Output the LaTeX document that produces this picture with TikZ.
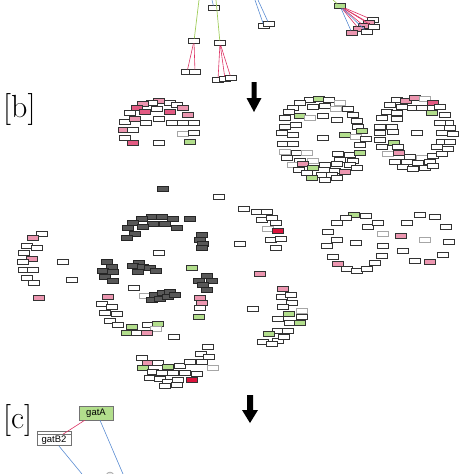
\documentclass[tikz,border=0pt]{standalone}
\usepackage{fontspec}
\newfontfamily\lab{Liberation Sans}
\definecolor{pinkA}{RGB}{236,150,176}
\definecolor{pinkB}{RGB}{226,90,130}
\definecolor{redA}{RGB}{220,20,60}
\definecolor{greenA}{RGB}{178,222,140}
\definecolor{darkA}{RGB}{88,88,88}
\definecolor{lgreen}{RGB}{160,205,90}
\definecolor{lpink}{RGB}{220,50,100}
\definecolor{lblue}{RGB}{90,140,210}
\tikzset{
  bx/.style={draw=black!80, line width=0.85pt, fill=white, minimum width=11pt, minimum height=5pt, inner sep=0pt, outer sep=0pt},
  bw/.style={},
  bl/.style={draw=black!35},
  bp/.style={fill=pinkA},
  bq/.style={fill=pinkB},
  br/.style={fill=redA},
  bg/.style={fill=greenA},
  bd/.style={fill=darkA, draw=black!85},
  gl/.style={lgreen, line width=0.7pt},
  pl/.style={lpink, line width=0.6pt},
  bl2/.style={lblue, line width=0.6pt},
  panel/.style={font=\fontsize{32}{34}\selectfont, inner sep=0pt, anchor=west},
  gene/.style={font=\lab\fontsize{9.5}{10}\selectfont, inner sep=1pt, minimum width=34pt, draw=black!55, line width=0.6pt},
  bigarrow/.style={fill=black, draw=none}
}
\begin{document}
\begin{tikzpicture}[x=1pt,y=-1pt]
\useasboundingbox (0,0) rectangle (474,474);
% ---------- top part (a) ----------
\coordinate (t1) at (199,0);
\coordinate (t2) at (212,0);
\coordinate (t2b) at (216,0);
\coordinate (t3) at (255,0);
\coordinate (t3b) at (258,0);
\coordinate (t4) at (333,0);
\node[bx] (n1) at (214,8) {};
\node[bx] (n2) at (194,41) {};
\node[bx] (n3) at (220,43) {};
\node[bx] (c1) at (187,72) {};
\node[bx] (c2) at (195,72) {};
\node[bx] (d1) at (218,80) {};
\node[bx] (d2) at (225,79) {};
\node[bx] (d3) at (231,78) {};
\node[bx] (e1) at (264,26) {};
\node[bx] (e2) at (269,24) {};
\node[bx,bg] (g1) at (340,6) {};
\node[bx,bw] (f1) at (373,20) {};
\node[bx,bp] (f2) at (369,23) {};
\node[bx,bp] (f3) at (364,26) {};
\node[bx,bw] (f7) at (374,27) {};
\node[bx,bp] (f4) at (359,29) {};
\node[bx,bw] (f6) at (367,32) {};
\node[bx,bp] (f5) at (352,33) {};
\draw[gl] (t1) -- (n2);
\draw[gl] (t2b) -- (n3);
\draw[bl2] (t2) -- (n1);
\draw[bl2] (t3) -- (e1);
\draw[bl2] (t3b) -- (e2);
\draw[gl] (t4) -- (g1);
\draw[pl] (n2) -- (c1);
\draw[pl] (n2) -- (c2);
\draw[pl] (n3) -- (d1);
\draw[pl] (n3) -- (d2);
\draw[pl] (n3) -- (d3);
\draw[pl] (g1) -- (f1);
\draw[pl] (g1) -- (f2);
\draw[pl] (g1) -- (f3);
\draw[pl] (g1) -- (f4);
\draw[pl] (g1) -- (f7);
\draw[bl2] (g1) -- (f5);
\draw[bl2] (g1) -- (f6);
% ---------- arrows ----------
\fill[bigarrow] (251.5,82) -- (256.5,82) -- (256.5,98) -- (261.5,98) -- (254,112) -- (246.5,98) -- (251.5,98) -- cycle;
\fill[bigarrow] (247,395) -- (253,395) -- (253,410) -- (258,410) -- (250,423) -- (242,410) -- (247,410) -- cycle;
% ---------- labels ----------
\node[panel] (lb) at (3,109) {[b]};
\node[panel] (lc) at (3,420) {[c]};
% ---------- half ring (b) ----------
\foreach \x/\y/\s [count=\i] in {159/101/bp,152/103/bw,170/103/bw,143/104/bp,177/105/bw,157/109/bw,137/108/bq,145/112/bq,170/112/bq,183/108/bp,130/113/bw,188/115/bp,125/122/bw,135/119/bp,146/123/bw,159/119/bw,172/123/bw,183/123/bw,194/123/bw,124/130/bp,133/130/bw,183/134/bl,194/133/bw,125/138/bw,133/143/bq,159/143/bw,190/142/bg}
  \node[bx,\s] (h\i) at (\x,\y) {};
% ---------- ring 1 ----------
\foreach \x/\y/\s [count=\i] in {310/100/bw,319/99/bg,329/100/bw,300/103/bw,340/103/bl,293/108/bw,313/107/bw,325/106/bw,336/109/bl,348/109/bw,289/112/bw,300/116/bg,310/118/bl,323/116/bw,337/120/bw,353/115/bw,285/118/bw,357/121/bw,285/127/bw,296/125/bw,358/127/bw,362/131/bg,282/133/bw,293/135/bw,323/138/bw,345/135/bg,356/137/bl,366/139/bw,283/144/bw,293/144/bw,360/145/bw,285/152/bl,297/153/bw,307/153/bl,338/154/bw,350/155/bw,360/153/bg,287/158/bw,300/161/bw,313/161/bl,340/160/bw,353/161/bw,293/165/bl,303/164/bp,325/165/bw,337/164/bw,350/165/bw,299/170/bw,313/168/bg,335/171/bw,345/172/bp,357/168/bw,307/173/bw,322/175/bw,332/175/bw,312/178/bg,325/180/bw,337/178/bw}
  \node[bx,\s] (ra\i) at (\x,\y) {};
% ---------- ring 2 ----------
\foreach \x/\y/\s [count=\i] in {397/100/bw,406/101/bp,415/98/bp,425/99/bl,433/103/bq,440/107/bw,390/105/bw,402/107/bw,413/108/bw,422/108/bw,432/113/bg,387/112/bw,397/113/bw,445/115/bw,382/118/bw,397/119/bw,448/123/bw,380/127/bw,392/127/bw,440/123/bw,450/128/bw,380/133/bw,393/132/bw,417/133/bw,442/133/bw,453/134/bw,380/140/bw,394/143/bg,442/142/bw,450/142/bw,382/147/bw,398/147/bw,437/147/bw,448/149/bw,388/154/bl,399/153/bp,410/157/bw,422/158/bl,433/156/bw,442/154/bw,395/162/bw,407/162/bw,418/163/bw,430/162/bw,403/167/bw,413/169/bw,425/168/bw,433/166/bw}
  \node[bx,\s] (rb\i) at (\x,\y) {};
% ---------- big middle ring ----------
\foreach \x/\y/\s [count=\i] in {163/189/bd,219/197/bw,152/217/bd,162/217/bd,142/219/bd,173/219/bd,190/219/bd,133/223/bd,153/224/bd,165/224/bd,143/227/bd,128/228/bd,177/228/bd,135/234/bd,127/238/bd,202/235/bd,200/240/bd,203/244/bd,202/248/bd,159/253/bw,107/262/bd,112/267/bd,103/271/bd,113/272/bd,105/277/bd,113/281/bd,139/263/bd,133/266/bd,143/267/bd,150/268/bd,156/271/bd,138/272/bd,192/268/bg,207/276/bd,212/281/bd,199/281/bd,203/285/bd,207/290/bd,134/288/bw,145/296/bl,155/295/bd,163/293/bd,170/292/bd,152/300/bd,160/299/bd,168/297/bd,175/295/bd,63/262/bw,72/280/bw}
  \node[bx,\s] (m\i) at (\x,\y) {};
\foreach \x/\y/\s [count=\i] in {108/297/bp,102/304/bw,112/307/bw,105/313/bw,117/314/bw,110/321/bw,118/325/bw,132/327/bg,148/325/bw,158/324/bg,156/329/bl,127/333/bg,137/333/bw,147/333/bp,174/337/bw,200/298/bp,202/303/bp,200/308/bw,199/317/bg,208/347/bw,201/354/bw,209/357/bw,142/358/bw,148/363/bp,158/363/bw,143/368/bg,168/367/bg,180/366/bw,190/362/bw,202/362/bw,213/368/bl,153/372/bw,162/373/bw,173/373/bw,185/373/bw,197/374/bw,150/378/bw,160/379/bw,168/382/bw,178/380/bw,192/380/br,177/385/bw,165/386/bw}
  \node[bx,\s] (mb\i) at (\x,\y) {};
\foreach \x/\y/\s [count=\i] in {244/209/bw,257/212/bw,267/212/bw,262/220/bw,272/218/bw,276/223/bw,268/229/bl,278/231/br,271/240/bw,281/239/bw,276/248/bw,240/244/bw,260/274/bp,283/289/bp,282/297/bw,291/295/bw,253/309/bw,292/303/bw,283/307/bw,302/311/bl,289/314/bg,302/317/bw,278/319/bw,290/323/bw,300/323/bg,278/331/bw,288/331/bw,278/341/bw,269/334/bg,284/337/bw,263/342/bw,272/344/bw}
  \node[bx,\s] (mr\i) at (\x,\y) {};
% ---------- left column ----------
\foreach \x/\y/\s [count=\i] in {42/234/bw,33/238/bp,27/246/bw,37/248/bw,24/253/bw,32/259/bp,23/262/bw,24/270/bw,33/270/bw,27/278/bw,34/283/bw,39/298/bp}
  \node[bx,\s] (lc\i) at (\x,\y) {};
% ---------- ring 3 ----------
\foreach \x/\y/\s [count=\i] in {354/215/bg,366/216/bw,346/218/bw,337/223/bw,368/227/bw,378/223/bw,328/232/bw,337/240/bw,356/243/bw,327/246/bw,383/234/bl,383/246/bw,333/257/bw,382/256/bw,338/264/bp,375/263/bw,347/269/bw,357/271/bw,367/269/bw}
  \node[bx,\s] (rc\i) at (\x,\y) {};
% ---------- ring 4 ----------
\foreach \x/\y/\s [count=\i] in {420/215/bw,435/217/bw,407/223/bw,446/227/bw,401/236/bp,425/240/bl,449/242/bw,403/251/bw,443/255/bw,415/261/bw,430/262/bp}
  \node[bx,\s] (rd\i) at (\x,\y) {};
% ---------- part (c) ----------
\coordinate (q1) at (82,474);
\coordinate (q2) at (123,474);
\node[draw=black!55, line width=0.6pt, fill=white, minimum width=34pt, minimum height=11pt, inner sep=0pt] (gatBb) at (54,437) {};
\node[gene, fill=white, minimum height=11pt] (gatB2) at (54,440) {gatB2};
\node[gene, fill=greenA, minimum height=14pt] (gatA) at (96,413) {gatA};
\draw[pl] (gatB2) -- (gatA);
\draw[bl2] (gatB2) -- (q1);
\draw[bl2] (gatA.south) ++(4,0) coordinate (qa) (qa) -- (q2);
\node[circle, draw=black!50, fill=black!10, minimum size=8pt, inner sep=0pt] (gx) at (110,476) {};
\end{tikzpicture}
\end{document}
